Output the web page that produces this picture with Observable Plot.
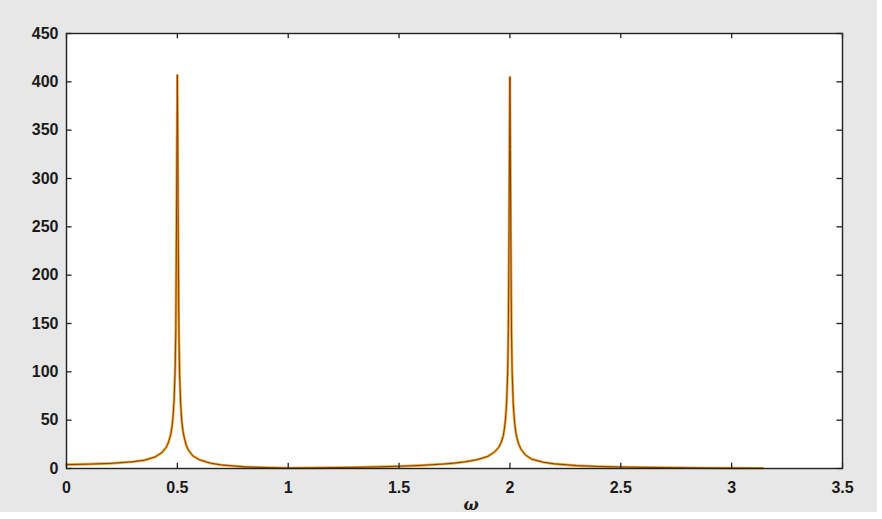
<!DOCTYPE html>
<html>
<head>
<meta charset="utf-8">
<script src="https://cdn.jsdelivr.net/npm/d3@7"></script>
<script src="https://cdn.jsdelivr.net/npm/@observablehq/plot@0.6"></script>
<style>
  html, body { margin: 0; padding: 0; background: #ffffff; }
  #bg { position: absolute; left: 0; top: 0; width: 877px; height: 512px; background: #e7e7e7; }
  #chart { position: absolute; left: 0; top: 0; }
  #chart svg { overflow: visible; }
</style>
</head>
<body>
<div id="bg"></div>
<div id="chart"></div>
<script>
const omega = [0, 0.1, 0.2, 0.3, 0.35, 0.4, 0.43, 0.45, 0.46, 0.47, 0.475, 0.48, 0.485, 0.49, 0.493, 0.496, 0.498, 0.5,
  0.502, 0.504, 0.507, 0.51, 0.515, 0.52, 0.525, 0.53, 0.54, 0.55, 0.57, 0.6, 0.65, 0.7, 0.8, 0.9, 1.0,
  1.1, 1.2, 1.3, 1.4, 1.5, 1.6, 1.7, 1.75, 1.8, 1.85, 1.9, 1.93, 1.95, 1.96, 1.97, 1.975, 1.98, 1.985, 1.99,
  1.993, 1.996, 1.998, 2.0, 2.002, 2.004, 2.007, 2.01, 2.015, 2.02, 2.025, 2.03, 2.04, 2.05, 2.07, 2.1,
  2.15, 2.2, 2.3, 2.4, 2.5, 2.6, 2.7, 2.8, 2.9, 3.0, 3.1, 3.14];
const magnitude = [4.0, 4.5, 5.3, 7.0, 8.5, 12, 16.5, 22, 27, 35, 42, 52, 69, 102, 145, 250, 330, 407,
  330, 240, 140, 98, 66, 49, 39, 33, 24, 19, 13, 9, 5.5, 3.6, 1.8, 0.9, 0.5,
  0.6, 0.9, 1.2, 1.7, 2.3, 3.2, 4.6, 5.6, 7, 9, 12.5, 17, 22, 26.5, 34, 41, 51, 68, 101,
  144, 245, 330, 405, 330, 245, 143, 100, 67, 50, 40, 33, 25, 20, 14, 9.5,
  6.5, 4.8, 3.0, 2.1, 1.6, 1.2, 0.9, 0.7, 0.5, 0.4, 0.3, 0.3];
const xTicks = [0, 0.5, 1, 1.5, 2, 2.5, 3, 3.5];
const yTicks = [0, 50, 100, 150, 200, 250, 300, 350, 400, 450];
const xLabel = "ω";

const data = omega.map((w, i) => ({w, v: magnitude[i]}));

const chart = Plot.plot({
  width: 882,
  height: 519,
  marginLeft: 66,
  marginRight: 40,
  marginTop: 33,
  marginBottom: 51,
  style: {background: "transparent", fontFamily: "'Liberation Sans', Arial, sans-serif", fontSize: "16px", fontWeight: "bold", color: "#1a1a1a"},
  x: {domain: [0, 3.5]},
  y: {domain: [0, 450]},
  marks: [
    Plot.frame({fill: "white"}),
    Plot.line(data, {x: "w", y: "v", stroke: "#e9a72c", strokeWidth: 2.6}),
    Plot.line(data, {x: "w", y: "v", stroke: "#8a3c14", strokeWidth: 1}),
    Plot.ruleX(xTicks, {x: d => d, y1: 0, y2: 5.5, stroke: "#222", strokeWidth: 1.3}),
    Plot.ruleX(xTicks, {x: d => d, y1: 444.5, y2: 450, stroke: "#222", strokeWidth: 1.3}),
    Plot.ruleY(yTicks, {y: d => d, x1: 0, x2: 0.025, stroke: "#222", strokeWidth: 1.3}),
    Plot.ruleY(yTicks, {y: d => d, x1: 3.475, x2: 3.5, stroke: "#222", strokeWidth: 1.3}),
    Plot.frame({stroke: "#222", strokeWidth: 1.4}),
    Plot.axisX({ticks: xTicks, tickSize: 0, tickPadding: 13, tickFormat: d => String(d), label: null}),
    Plot.axisY({ticks: yTicks, tickSize: 0, tickPadding: 8, tickFormat: d => String(d), label: null})
  ]
});

d3.select(chart).append("text")
  .attr("x", 471)
  .attr("y", 510)
  .attr("text-anchor", "middle")
  .attr("font-family", "'DejaVu Serif', serif")
  .attr("font-style", "italic")
  .attr("font-weight", "bold")
  .attr("font-size", "16px")
  .attr("fill", "#1a1a1a")
  .text(xLabel);

document.getElementById("chart").appendChild(chart);
</script>
</body>
</html>
